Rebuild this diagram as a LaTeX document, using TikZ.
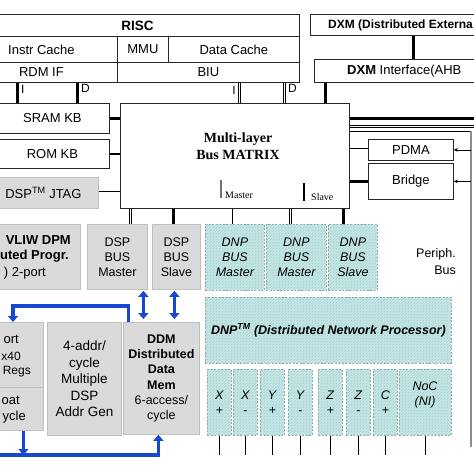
\documentclass[tikz,border=0pt]{standalone}
\usepackage{fontspec}
\setmainfont{Liberation Sans}
\newfontfamily\matfont{Liberation Serif}
\usetikzlibrary{arrows.meta,patterns}
\definecolor{boxgray}{RGB}{218,218,218}
\definecolor{dnpfill}{RGB}{198,231,231}
\definecolor{dnphatch}{RGB}{160,205,205}
\definecolor{dnpedge}{RGB}{140,165,165}
\definecolor{dspblue}{RGB}{22,72,212}
\tikzset{
  box/.style={draw=black!85, line width=0.8pt, inner sep=0pt, anchor=north west, align=center, font=\fontsize{13}{15}\selectfont},
  gbox/.style={box, draw=black!25, fill=boxgray},
  dnpbox/.style={box, draw=dnpedge, dash pattern=on 2pt off 1.5pt, fill=dnpfill, postaction={pattern=north east lines, pattern color=dnphatch}},
  sz/.style 2 args={minimum width=#1pt, minimum height=#2pt},
  txt/.style={inner sep=0pt, align=center, font=\fontsize{13}{15}\selectfont},
  txtb/.style={inner sep=0pt, align=center, font=\fontsize{13}{15}\selectfont\bfseries},
  mtxt/.style={inner sep=0pt, align=center, font=\fontsize{14}{17}\selectfont\matfont\bfseries},
  mlbl/.style={inner sep=0pt, font=\fontsize{10}{12}\selectfont\matfont},
  blbl/.style={inner sep=0pt, font=\fontsize{12}{13}\selectfont},
  bus/.style={line width=2.2pt},
  dbus/.style={double, double distance=1.5pt, line width=0.7pt},
  lead/.style={line width=1.6pt},
  pbus/.style={line width=2.4pt, draw=black!45},
  blu/.style={draw=dspblue, line width=3.4pt}
}
\begin{document}
\begin{tikzpicture}[x=1pt, y=-1pt, >={Triangle[length=6pt,width=10pt]}]
\useasboundingbox (0,0) rectangle (474,474);
\fill[white] (0,0) rectangle (474,474);
\clip (0,0) rectangle (474,474);
\coordinate (redge) at (490,0);

% RISC core
\node[box, sz={324}{22}, font=\fontsize{13.5}{16}\selectfont\bfseries] (risc) at (-25,14) {RISC};
\node[box, sz={152}{26}] (icache) at (-35,36) {Instr Cache};
\node[box, sz={51}{26}] (mmu) at (117,36) {MMU};
\node[box, sz={131}{26}] (dcache) at (168,36) {Data Cache};
\node[box, sz={152}{20}] (rdmif) at (-35,62) {RDM IF};
\node[box, sz={182}{20}] (biu) at (117,62) {BIU};

% external memory side
\node[box, sz={200}{21}] (dxm) at (310,14) {};
\node[txtb, anchor=west, font=\fontsize{12}{14}\selectfont\bfseries] (dxmtxt) at (328,25) {DXM (Distributed Externa};
\node[box, sz={200}{23}] (dxmif) at (314,59) {};
\node[txt, anchor=west] (dxmiftxt) at (347,71) {\textbf{DXM} Interface(AHB};
\draw[bus] ([xshift=3pt]dxm.south) -- ([xshift=3pt]dxm.south |- dxmif.north);

% bus matrix
\node[box, sz={229}{105}] (mat) at (120,103) {};
\node[mtxt] (mtitle) at (238,146) {Multi-layer\\Bus MATRIX};
\draw[line width=2pt, black!55] (221,180) -- (221,198);
\node[mlbl, anchor=west] (mmaster) at (225,195) {Master};
\draw[line width=2.2pt] (304,183) -- (304,201);
\node[mlbl, anchor=west] (mslave) at (311,197) {Slave};

% left column
\node[box, sz={114}{30}] (sram) at (-5,103) {SRAM KB};
\node[box, sz={114}{29}] (rom) at (-5,139) {ROM KB};
\node[gbox, sz={110}{31}] (jtag) at (-12,177) {DSP\textsuperscript{TM} JTAG};

% right column
\node[box, sz={85}{21}] (pdma) at (368,139) {PDMA};
\node[box, sz={85}{36}] (bridge) at (368,163) {Bridge};

% buses into the matrix
\draw[bus] ([xshift=-24pt]rdmif.south) -- ([xshift=-24pt]rdmif.south |- sram.north);
\draw[bus] ([xshift=36pt]rdmif.south) -- ([xshift=36pt]rdmif.south |- sram.north);
\node[blbl, anchor=north west] (li1) at (21,85) {I};
\node[blbl, anchor=north west] (ld1) at (81,84) {D};
\draw[dbus] ([xshift=31pt]biu.south) -- ([xshift=31pt]biu.south |- mat.north);
\draw[dbus] ([xshift=76pt]biu.south) -- ([xshift=76pt]biu.south |- mat.north);
\node[blbl, anchor=north east] (li2) at (236,86) {I};
\node[blbl, anchor=north west] (ld2) at (288,84) {D};
\draw[bus] ([xshift=-89pt]dxmif.south) -- ([xshift=-89pt]dxmif.south |- mat.north);
\draw[bus] (sram.east) -- (sram.east -| mat.west);
\draw[bus] (rom.east) -- (rom.east -| mat.west);
\draw[dbus] (jtag.east) -- (jtag.east -| mat.west);

% matrix to the right
\coordinate (pbtop) at (471,131);
\coordinate (pbbot) at (471,447);
\draw[bus] ([yshift=37.5pt]mat.east) -- ([yshift=37.5pt]mat.east -| redge);
\draw[dbus] ([yshift=29.5pt]mat.east) -- ([yshift=29.5pt]mat.east -| redge);
\draw[line width=0.8pt] ([yshift=24.5pt]mat.east) -- ([yshift=24.5pt]mat.east -| pbtop);
\draw[pbus] (pbtop) -- (pbbot);
\draw[dbus] (pdma.west) -- (pdma.west -| mat.east);
\draw[bus] (bridge.west) -- (bridge.west -| mat.east);
\draw[line width=0.8pt, -{Stealth[length=4pt,width=3.5pt]}] (pdma.east -| pbtop) -- (pdma.east);
\draw[line width=0.8pt, -{Stealth[length=4pt,width=3.5pt]}] (bridge.east -| pbtop) -- (bridge.east);

% bus ports
\node[gbox, sz={110}{65}] (vliw) at (-30,224) {};
\node[txtb, anchor=east] (vliw1) at (71,240) {VLIW DPM};
\node[txtb, anchor=east] (vliw2) at (69,256) {uted Progr.};
\node[txt, anchor=east] (vliw3) at (46,273) {) 2-port};
\node[gbox, sz={60}{65}, font=\fontsize{12.5}{15}\selectfont] (dspm) at (87,224) {DSP\\BUS\\Master};
\node[gbox, sz={48}{65}, font=\fontsize{12.5}{15}\selectfont] (dsps) at (152,224) {DSP\\BUS\\Slave};
\node[dnpbox, sz={59}{66}, font=\fontsize{12.5}{15}\selectfont\itshape] (dnpm1) at (205,224) {DNP\\BUS\\Master};
\node[dnpbox, sz={60}{66}, font=\fontsize{12.5}{15}\selectfont\itshape] (dnpm2) at (266,224) {DNP\\BUS\\Master};
\node[dnpbox, sz={49}{66}, font=\fontsize{12.5}{15}\selectfont\itshape] (dnps) at (328,224) {DNP\\BUS\\Slave};
\node[txt, anchor=east, align=right, font=\fontsize{12.5}{17}\selectfont] (pbus) at (456,262) {Periph.\\Bus};
\draw[dbus] ([xshift=13pt]dspm.north) -- ([xshift=13pt]dspm.north |- mat.south);
\draw[bus] ([xshift=-3pt]dsps.north) -- ([xshift=-3pt]dsps.north |- mat.south);
\draw[line width=0.8pt] ([xshift=-2.5pt]dnpm1.north) -- ([xshift=-2.5pt]dnpm1.north |- mat.south);
\draw[dbus] ([xshift=-6pt]dnpm2.north) -- ([xshift=-6pt]dnpm2.north |- mat.south);
\draw[bus] ([xshift=-9.5pt]dnps.north) -- ([xshift=-9.5pt]dnps.north |- mat.south);

% network processor
\node[dnpbox, sz={246}{66}, font=\fontsize{12.5}{15}\selectfont\bfseries\itshape] (dnp) at (205,297) {DNP\textsuperscript{TM} (Distributed Network Processor)};
\foreach \n/\x/\ax/\sg in {xp/207/X/+, xm/233/X/-, yp/260/Y/+, ym/288/Y/-, zp/318/Z/+, zm/346/Z/-, cp/373/C/+}
  \node[dnpbox, sz={24}{66}, font=\fontsize{12.5}{15}\selectfont] (\n) at (\x,369) {\textit{\ax}\\\sg};
\node[dnpbox, sz={52}{66}] (noc) at (399,369) {};
\node[txt, font=\fontsize{12.5}{15}\selectfont\itshape] (noctxt) at (425,395) {NoC\\(NI)};
\foreach \n in {xp,xm,yp,ym,zp,zm,cp,noc}
  \draw[lead] (\n.south) -- ++(0,19);

% data side
\node[gbox, sz={73}{65}] (regsup) at (-30,322) {};
\node[txt, anchor=east] (rg1) at (19,339) {ort};
\node[txt, anchor=east, font=\fontsize{12}{14}\selectfont] (rg2) at (21,356) {x40};
\node[txt, anchor=east, font=\fontsize{12}{14}\selectfont] (rg3) at (31,372) {Regs};
\node[gbox, sz={73}{43}] (regslo) at (-30,387) {};
\node[txt, anchor=east] (rg4) at (20,400) {oat};
\node[txt, anchor=east] (rg5) at (26,417) {ycle};
\node[gbox, sz={74}{113}, font=\fontsize{13.5}{16.5}\selectfont] (agen) at (47,322) {4-addr/\\cycle\\Multiple\\DSP\\Addr Gen};
\node[gbox, sz={76}{112}, font=\fontsize{12.5}{15.2}\selectfont] (ddm) at (123,322) {\textbf{DDM}\\\textbf{Distributed}\\\textbf{Data}\\\textbf{Mem}\\6-access/\\cycle};

% blue data paths
\coordinate (loopl) at (13,306);
\coordinate (busl) at (-10,455);
\draw[blu, <->, shorten <=1pt, shorten >=3pt] ([xshift=26pt]dspm.south) -- ([xshift=26pt]dspm.south |- ddm.north);
\draw[blu, <->, shorten <=1pt, shorten >=3pt] ([xshift=-2pt]dsps.south) -- ([xshift=-2pt]dsps.south |- ddm.north);
\draw[blu, ->] ([xshift=-33pt]ddm.north) |- (loopl) -- (loopl |- regsup.north);
\draw[blu, ->] ([xshift=16.5pt]regslo.south) -- ([xshift=16.5pt]regslo.south |- busl);
\draw[blu, ->] (busl) -| ([xshift=-3pt]ddm.south);
\end{tikzpicture}
\end{document}
